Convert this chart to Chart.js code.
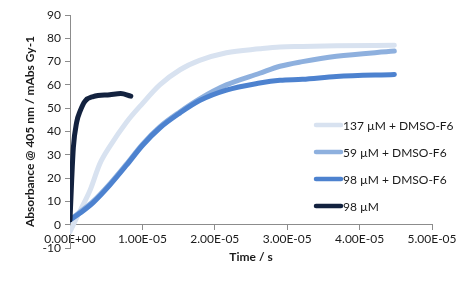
<!DOCTYPE html>
<html>
<head>
<meta charset="utf-8">
<script src="https://cdn.jsdelivr.net/npm/chart.js@4"></script>
<style>
  html, body { margin: 0; padding: 0; background: #fff; }
  #wrap { width: 474px; height: 284px; }
</style>
</head>
<body>
<div id="wrap"><canvas id="c" width="474" height="284"></canvas></div>
<script>
// Series names
const seriesLabels = ['137 µM + DMSO-F6', '59 µM + DMSO-F6', '98 µM + DMSO-F6', '98 µM'];

// Time (s) / absorbance readings for each series
const t137 = [0, 1.4e-6, 2.8e-6, 4.1e-6, 5.5e-6, 7.8e-6, 1.0e-5, 1.24e-5, 1.52e-5, 1.79e-5, 2.16e-5, 2.62e-5, 2.9e-5, 3.21e-5, 3.68e-5, 4.48e-5];
const y137 = [-3, 6, 15, 26, 33.6, 44, 52, 60, 66.5, 70.5, 73.8, 75.5, 76.3, 76.5, 76.8, 77];

const t59 = [0, 1.4e-6, 3.2e-6, 5.5e-6, 7.8e-6, 1.0e-5, 1.24e-5, 1.52e-5, 1.79e-5, 2.16e-5, 2.62e-5, 2.9e-5, 3.21e-5, 3.68e-5, 4.48e-5];
const y59 = [2, 5.5, 10, 17.5, 26, 34.5, 42, 48.5, 54, 60, 65, 68, 70, 72.3, 74.5];

const t98d = [0, 1.4e-6, 3.2e-6, 5.5e-6, 7.8e-6, 1.0e-5, 1.24e-5, 1.52e-5, 1.79e-5, 2.16e-5, 2.62e-5, 2.9e-5, 3.21e-5, 3.68e-5, 4.48e-5];
const y98d = [2, 5, 9.5, 17, 25.5, 34, 41.5, 48, 53.3, 57.8, 60.8, 62, 62.4, 63.6, 64.5];

const t98 = [0, 2.3e-7, 4.6e-7, 9.2e-7, 1.38e-6, 2.07e-6, 3.2e-6, 5.5e-6, 7.0e-6, 8.4e-6];
const y98 = [2, 19, 33, 44, 48.6, 53, 55, 55.8, 56.3, 55.2];

// Axis ticks
const xTicks = [0, 1e-5, 2e-5, 3e-5, 4e-5, 5e-5];
const xTickLabels = ['0.00E+00', '1.00E-05', '2.00E-05', '3.00E-05', '4.00E-05', '5.00E-05'];
const yTicks = [-10, 0, 10, 20, 30, 40, 50, 60, 70, 80, 90];

const colors = ['#d8e2f0', '#8eb0de', '#4d82cf', '#13223f'];

function pts(t, y) { return t.map((v, i) => ({ x: v, y: y[i] })); }

const seriesData = [pts(t137, y137), pts(t59, y59), pts(t98d, y98d), pts(t98, y98)];

const FONT = 'Lato, "Open Sans", sans-serif';

const legendPlugin = {
  id: 'insideLegend',
  afterDraw(chart) {
    const ctx = chart.ctx;
    const rows = [125, 152, 179, 206];
    ctx.save();
    chart.data.datasets.forEach((ds, i) => {
      const y = rows[i];
      ctx.strokeStyle = ds.borderColor;
      ctx.lineWidth = 4.5;
      ctx.lineCap = 'round';
      ctx.beginPath();
      ctx.moveTo(316, y);
      ctx.lineTo(341, y);
      ctx.stroke();
      ctx.fillStyle = '#1a1a1a';
      ctx.font = '12px ' + FONT;
      ctx.textBaseline = 'middle';
      ctx.textAlign = 'left';
      ctx.fillText(ds.label, 343, y + 1);
    });
    ctx.restore();
  }
};

new Chart(document.getElementById('c'), {
  type: 'scatter',
  data: {
    datasets: seriesData.map((d, i) => ({
      label: seriesLabels[i],
      data: d,
      showLine: true,
      borderColor: colors[i],
      backgroundColor: colors[i],
      borderWidth: 5,
      pointRadius: 0,
      cubicInterpolationMode: 'monotone',
      borderCapStyle: 'round',
      order: 4 - i
    }))
  },
  options: {
    responsive: false,
    animation: false,
    events: [],
    layout: { padding: { left: 0, right: 42, top: 15, bottom: 36 } },
    plugins: { legend: { display: false }, tooltip: { enabled: false } },
    scales: {
      x: {
        type: 'linear',
        position: { y: 0 },
        min: 0,
        max: 5e-5,
        afterBuildTicks: (s) => { s.ticks = xTicks.map(v => ({ value: v })); },
        ticks: {
          callback: (v, i) => xTickLabels[i],
          color: '#1a1a1a',
          font: { family: FONT, size: 12 },
          maxRotation: 0,
          autoSkip: false,
          padding: 2
        },
        grid: { drawOnChartArea: false, drawTicks: true, tickLength: 5, color: '#8c8c8c' },
        border: { color: '#8c8c8c', width: 1 },
        title: {
          display: true,
          text: 'Time / s',
          color: '#1a1a1a',
          font: { family: FONT, size: 12, weight: 'bold' },
          padding: { top: 2, bottom: 0 }
        }
      },
      y: {
        type: 'linear',
        position: 'left',
        min: -10,
        max: 90,
        afterBuildTicks: (s) => { s.ticks = yTicks.map(v => ({ value: v })); },
        afterFit: (s) => { s.width = 70; },
        ticks: {
          color: '#1a1a1a',
          font: { family: FONT, size: 12 },
          padding: 4
        },
        grid: { drawOnChartArea: false, drawTicks: true, tickLength: 5, color: '#8c8c8c' },
        border: { color: '#8c8c8c', width: 1 },
        title: {
          display: true,
          text: 'Absorbance @ 405 nm / mAbs Gy-1',
          color: '#1a1a1a',
          font: { family: FONT, size: 12, weight: 'bold' },
          padding: { top: 23, bottom: 0 }
        }
      }
    }
  },
  plugins: [legendPlugin]
});
</script>
</body>
</html>
